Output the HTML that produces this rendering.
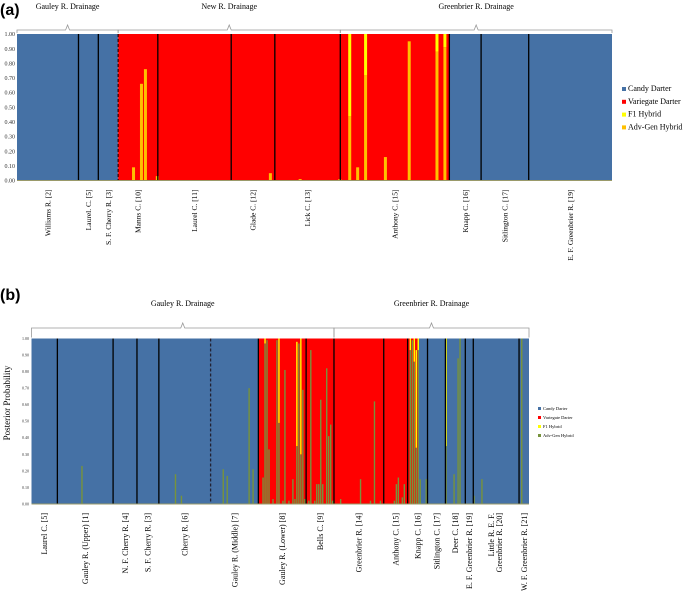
<!DOCTYPE html>
<html><head><meta charset="utf-8"><style>
html,body{margin:0;padding:0;background:#fff;}
svg{display:block;font-family:"Liberation Serif",serif;}
</style></head><body>
<svg id="fig" width="685" height="592" viewBox="0 0 685 592">
<text x="0" y="15" font-family="Liberation Sans, sans-serif" font-weight="bold" font-size="16">(a)</text>
<text x="0" y="300" font-family="Liberation Sans, sans-serif" font-weight="bold" font-size="16">(b)</text>
<text x="2" y="395" font-size="9" transform="rotate(-90 10 395)" text-anchor="middle">Posterior Probability</text>
<g id="pa"></g>
<g id="pb"></g>
</svg>
<script>
// ---- Panel A data ----
const aPops = ["Williams R. [2]","Laurel. C. [5]","S. F. Cherry R. [3]","Manns C. [10]","Laurel C. [11]","Glade C. [12]","Lick C. [13]","Anthony C. [15]","Knapp C. [16]","Sitlington C. [17]","E. F. Greenbrier R. [19]"];
const aCounts = [31,10,10,20,37,22,33,55,16,24,42];
const aDashed = [2];
const aSpeciesCounts = [51,167,82];
const aSpecies = ["candy","variegate","candy"];
const aHybIdx = [58,62,64,70,127,142,162,167,171,175,185,197,211,215];
const aHybF1  = [0,0,0,0,0,0,0,0.56,0,0.28,0,0,0.12,0.09];
const aHybAdv = [0.09,0.66,0.76,0.03,0.05,0.01,0.01,0.44,0.09,0.72,0.16,0.95,0.88,0.91];
const aDrainages = ["Gauley R. Drainage","New R. Drainage","Greenbrier R. Drainage"];
const aDrainPops = [3,4,4];
// ---- Panel B data ----
const bPops = ["Laurel C. [5]","Gauley R. (Upper) [1]","N. F. Cherry R. [4]","S. F. Cherry R. [3]","Cherry R. [6]","Gauley R. (Middle) [7]","Gauley R. (Lower) [8]","Bells C. [9]","Greenbrier R. [14]","Anthony C. [15]","Knapp C. [16]","Sitlington C. [17]","Deer C. [18]","E. F. Greenbrier R. [19]","Little R. E. F.|Greenbrier R. [20]","W. F. Greenbrier R. [21]"];
const bCounts = [13,28,12,11,26,24,24,14,25,12,10,9,10,4,23,5];
const bDashed = [4];
const bSpeciesCounts = [114,80,56];
const bSpecies = ["candy","variegate","candy"];
const bHybIdx = [25,72,75,96,98,109,111,116,117,118,119,121,123,124,126,127,129,131,132,133,134,135,136,137,139,140,142,143,144,145,146,148,149,150,151,155,165,170,172,175,182,183,184,186,187,190,191,192,193,194,195,198,208,212,214,215,222,226,246];
const bHybF1  = [0,0,0,0,0,0,0,0,0.03,0,0,0,0,0.51,0,0,0,0,0,0.63,0,0.70,0,0,0,0,0,0,0,0,0,0,0,0,0,0,0,0,0,0,0,0,0,0,0,0.07,0,0.14,0.59,0.07,0,0,0.65,0,0,0,0,0,0];
const bHybAdv = [0.23,0.18,0.05,0.21,0.17,0.70,0.21,0.16,0.97,0.99,0.33,0.03,0.99,0.49,0.02,0.81,0.02,0.15,0.03,0.35,0.97,0.30,0.69,0.03,0.02,0.93,0.02,0.12,0.12,0.63,0.12,0.82,0.41,0.48,0.02,0.03,0.15,0.02,0.62,0.02,0.02,0.12,0.16,0.04,0.12,0.93,0.99,0.86,0.34,0.93,0.15,0.15,0.35,0.18,0.88,1.0,0.05,0.15,1.0];
const bDrainages = ["Gauley R. Drainage","Greenbrier R. Drainage"];
const bDrainPops = [8,8];
const yTicks = [0,0.1,0.2,0.3,0.4,0.5,0.6,0.7,0.8,0.9,1.0];
const legendLabels = ["Candy Darter","Variegate Darter","F1 Hybrid","Adv-Gen Hybrid"];

const NS="http://www.w3.org/2000/svg";
const COL={candy:"#4571a5",variegate:"#ff0000",f1:"#ffff00"};
function mk(p,tag,at){const e=document.createElementNS(NS,tag);for(const k in at)e.setAttribute(k,at[k]);p.appendChild(e);return e;}

function panel(g,cfg){
  const {L,R,T,B,counts,pops,dashed,spCounts,sp,hIdx,hF1,hAdv,advCol,drains,drainPops,tickFs,tickX,labFs,legX,legY,legGap,legFs,legSq,dashCol,bw,brTop,drainY,drainFs}=cfg;
  const N=counts.reduce((a,b)=>a+b,0);
  const x=i=>L+(R-L)*i/N;
  const y=v=>B-(B-T)*Math.min(1,v);
  let c=0;
  spCounts.forEach((n,k)=>{
    const r=mk(g,"rect",{x:x(c),y:T,width:x(c+n)-x(c),height:B-T,fill:COL[sp[k]]});
    
    
    c+=n;
  });
  hIdx.forEach((idx,k)=>{
    const xx=x(idx);
    const adv=hAdv[k]||0, f1=hF1[k]||0;
    if(adv>0){
      const r=mk(g,"rect",{x:xx,y:y(adv),width:bw,height:B-y(adv),fill:advCol});
      
      
    }
    if(f1>0){
      const r=mk(g,"rect",{x:xx,y:y(adv+f1),width:bw,height:y(adv)-y(adv+f1),fill:COL.f1});
      
      
    }
  });
  c=0;
  const bounds=[0];
  counts.forEach((n,k)=>{
    const cx=(x(c)+x(c+n))/2;
    const parts=pops[k].split("|");
    const t=mk(g,"text",{x:cx,y:B+9,"font-size":labFs,"text-anchor":"end",transform:`rotate(-90 ${cx} ${B+9})`});
    
    
    parts.forEach((p,j)=>{const ts=mk(t,"tspan",{x:cx,dy:j==0?(parts.length>1?-labFs*0.3:labFs*0.35):labFs*1.05});ts.textContent=p;});
    c+=n;bounds.push(c);
    if(k<counts.length-1){
      const ln=mk(g,"line",{x1:x(c),x2:x(c),y1:T,y2:B,stroke:dashed.includes(k)?dashCol:"#000","stroke-width":1.3});
      if(dashed.includes(k))ln.setAttribute("stroke-dasharray","3,2");
      
      
    }
  });
  const ax=mk(g,"line",{x1:L,x2:R,y1:B,y2:B,stroke:"#9a9a6a","stroke-width":1});
  
  
  yTicks.forEach(v=>{
    const t=mk(g,"text",{x:tickX,y:y(v)+tickFs*0.35,"font-size":tickFs,"text-anchor":"end",fill:"#333"});
    
    
    t.textContent=v.toFixed(2);
  });
  let pi=0;
  drains.forEach((d,k)=>{
    const x0=x(bounds[pi]), x1=x(bounds[pi+drainPops[k]]);
    pi+=drainPops[k];
    const m=(x0+x1)/2, yb=brTop+5, ye=T-1;
    const p=mk(g,"path",{d:`M${x0},${ye} L${x0},${yb} L${m-2},${yb} L${m},${brTop} L${m+2},${yb} L${x1},${yb} L${x1},${ye}`,fill:"none",stroke:"#999","stroke-width":0.8});
    
    
    const t=mk(g,"text",{x:m,y:drainY,"font-size":drainFs,"text-anchor":"middle"});
    
    
    t.textContent=d;
  });
  const lc=[COL.candy,COL.variegate,COL.f1,advCol];
  legendLabels.forEach((l,k)=>{
    const r=mk(g,"rect",{x:legX,y:legY+k*legGap-legSq,width:legSq,height:legSq,fill:lc[k]});
    
    
    const t=mk(g,"text",{x:legX+legSq+2,y:legY+k*legGap,"font-size":legFs});
    
    
    t.textContent=l;
  });
}
panel(document.getElementById("pa"),{L:17,R:612,T:34,B:180.5,counts:aCounts,pops:aPops,dashed:aDashed,spCounts:aSpeciesCounts,sp:aSpecies,hIdx:aHybIdx,hF1:aHybF1,hAdv:aHybAdv,advCol:"#ffc000",drains:aDrainages,drainPops:aDrainPops,tickFs:6,tickX:15,labFs:7.5,legX:622,legY:91,legGap:12.8,legFs:8,legSq:4,dashCol:"#400",bw:3,brTop:25,drainY:9,drainFs:8});
panel(document.getElementById("pb"),{L:31.5,R:529,T:338.5,B:504,counts:bCounts,pops:bPops,dashed:bDashed,spCounts:bSpeciesCounts,sp:bSpecies,hIdx:bHybIdx,hF1:bHybF1,hAdv:bHybAdv,advCol:"#77933c",drains:bDrainages,drainPops:bDrainPops,tickFs:4,tickX:29,labFs:8,legX:538,legY:410,legGap:9,legFs:4.5,legSq:3,dashCol:"#223",bw:1.4,brTop:323,drainY:306,drainFs:8});
</script>
</body></html>
